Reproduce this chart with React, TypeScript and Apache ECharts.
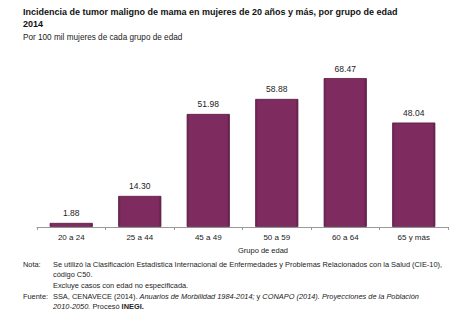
import React, { useEffect, useRef } from "react";
import * as echarts from "echarts";

const categories = ["20 a 24", "25 a 44", "45 a 49", "50 a 59", "60 a 64", "65 y más"];
const values = [1.88, 14.3, 51.98, 58.88, 68.47, 48.04];

const FONT = "'Liberation Sans', Arial, sans-serif";
const FS = 7.4;

export default function App() {
  const ref = useRef<HTMLDivElement>(null);
  useEffect(() => {
    const chart = echarts.init(ref.current!, null, { renderer: "svg" });
    const txt = (x: number, y: number, text: string, extra: any = {}) => ({
      type: "text",
      left: x,
      top: y,
      style: { text, fontFamily: FONT, fontSize: FS, fill: "#222", ...extra },
    });
    const rich = {
      n: { fontFamily: FONT, fontSize: FS, fill: "#222" },
      i: { fontFamily: FONT, fontSize: FS, fill: "#222", fontStyle: "italic" },
      b: { fontFamily: FONT, fontSize: FS, fill: "#222", fontWeight: "bold" },
    };
    chart.setOption({
      animation: false,
      backgroundColor: "#fff",
      grid: { left: 37, right: 26, top: 53, bottom: 102 },
      xAxis: {
        type: "category",
        data: categories,
        axisLine: { show: true, lineStyle: { color: "#999", width: 1 } },
        axisTick: { show: true, alignWithLabel: false, length: 3, lineStyle: { color: "#999" } },
        axisLabel: { fontFamily: FONT, fontSize: 8, color: "#222", margin: 6 },
      },
      yAxis: {
        type: "value",
        min: 0,
        max: 80,
        show: false,
        splitLine: { show: false },
      },
      series: [
        {
          type: "bar",
          data: values,
          barWidth: "63%",
          itemStyle: {
            color: {
              type: "linear",
              x: 0, y: 0, x2: 1, y2: 0,
              colorStops: [
                { offset: 0, color: "#6a2050" },
                { offset: 0.06, color: "#7e2c5f" },
                { offset: 0.94, color: "#7e2c5f" },
                { offset: 1, color: "#5e1a46" },
              ],
            },
            borderColor: "#5a1a42",
            borderWidth: 0.8,
          },
          label: {
            show: true,
            position: "top",
            distance: 5,
            formatter: (p: any) => p.value.toFixed(2),
            fontFamily: FONT,
            fontSize: 8.5,
            color: "#222",
          },
        },
      ],
      graphic: [
        txt(23, 7, "Incidencia de tumor maligno de mama en mujeres de 20 años y más, por grupo de edad", { fontWeight: "bold", fontSize: 9, fill: "#111" }),
        txt(23, 19, "2014", { fontWeight: "bold", fontSize: 9, fill: "#111" }),
        txt(23, 33, "Por 100 mil mujeres de cada grupo de edad", { fontSize: 8.2 }),
        txt(238, 246, "Grupo de edad", { fontSize: 7.5 }),
        txt(23, 261, "Nota:"),
        txt(53, 261, "Se utilizó la Clasificación Estadística Internacional de Enfermedades y Problemas Relacionados con la Salud (CIE-10),"),
        txt(53, 271, "código C50."),
        txt(53, 282, "Excluye casos con edad no especificada."),
        txt(23, 293, "Fuente:"),
        {
          type: "text",
          left: 53,
          top: 293,
          style: {
            text: "{n|SSA, CENAVECE (2014). }{i|Anuarios de Morbilidad 1984-2014;}{n| y }{i|CONAPO (2014). Proyecciones de la Población}",
            fontFamily: FONT,
            fontSize: FS,
            fill: "#222",
            rich,
          },
        },
        {
          type: "text",
          left: 53,
          top: 303,
          style: {
            text: "{i|2010-2050.}{n| Procesó }{b|INEGI.}",
            fontFamily: FONT,
            fontSize: FS,
            fill: "#222",
            rich,
          },
        },
      ],
    });
    return () => chart.dispose();
  }, []);
  return (
    <div
      ref={ref}
      style={{ position: "fixed", left: 0, top: 0, width: 474, height: 329, background: "#fff" }}
    />
  );
}
